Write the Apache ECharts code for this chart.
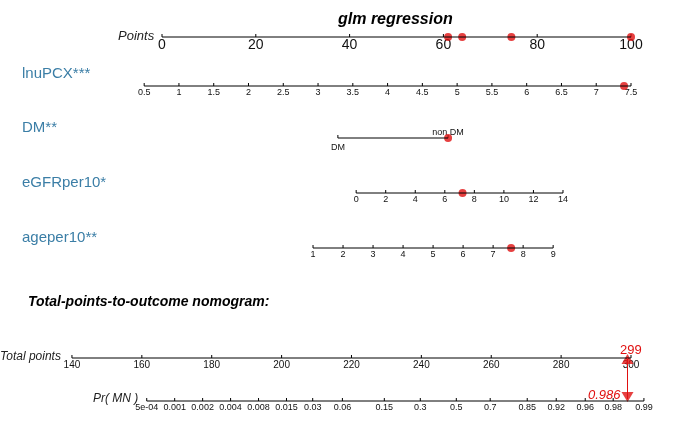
<!DOCTYPE html>
<html><head><meta charset="utf-8">
<script src="https://cdn.jsdelivr.net/npm/echarts@6/dist/echarts.min.js"></script>
<style>html,body{margin:0;background:#fff}#c{width:674px;height:423px}</style>
</head><body><div id="c"></div>
<script>
// points scale
var pointTicks = [0, 20, 40, 60, 80, 100];
// lnuPCX: value 0.5 -> -3.8 pts, 7.5 -> 100 pts
var lnuTicks = [0.5, 1, 1.5, 2, 2.5, 3, 3.5, 4, 4.5, 5, 5.5, 6, 6.5, 7, 7.5];
var lnuRange = [0.5, -3.8, 7.5, 100];
var dmLevels = ['DM', 'non DM'];
var dmPoints = [37.5, 61];
var egfrTicks = [0, 2, 4, 6, 8, 10, 12, 14];
var egfrRange = [0, 41.4, 14, 85.5];
var ageTicks = [1, 2, 3, 4, 5, 6, 7, 8, 9];
var ageRange = [1, 32.2, 9, 83.4];
// total points scale: 140 -> -19.2 pts, 300 -> 100 pts
var totalTicks = [140, 160, 180, 200, 220, 240, 260, 280, 300];
var totalRange = [140, -19.2, 300, 100];
var prLabels = ['5e-04', '0.001', '0.002', '0.004', '0.008', '0.015', '0.03', '0.06', '0.15', '0.3', '0.5', '0.7', '0.85', '0.92', '0.96', '0.98', '0.99'];
var prAtTotal = [161.4, 169.4, 177.4, 185.4, 193.4, 201.4, 208.9, 217.4, 229.4, 239.7, 250, 259.7, 270.3, 278.6, 286.9, 294.9, 303.7];
// observed case
var casePoints = [61, 64, 74.5, 100];
var caseLnu = 7.4, caseDm = 'non DM', caseEgfr = 7.2, caseAge = 7.6;
var caseTotal = 299, caseProb = '0.986';

function lin(v, r) { return r[1] + (v - r[0]) * (r[3] - r[1]) / (r[2] - r[0]); }

var rows = { points: 37, lnu: 86, dm: 138, egfr: 193, age: 248, total: 358, pr: 401 };
var ticks = [], lines = [];
function addRow(y, pts, labels, size, dy) {
  lines.push([[pts[0], y], [pts[pts.length - 1], y]]);
  pts.forEach(function (p, i) { ticks.push([p, y, labels[i], size, dy]); });
}
addRow(rows.points, pointTicks, pointTicks.map(String), 14, 8);
addRow(rows.lnu, lnuTicks.map(function (v) { return lin(v, lnuRange); }), lnuTicks.map(String), 9, 7);
addRow(rows.dm, dmPoints, dmLevels, 9, 0);
addRow(rows.egfr, egfrTicks.map(function (v) { return lin(v, egfrRange); }), egfrTicks.map(String), 9, 7);
addRow(rows.age, ageTicks.map(function (v) { return lin(v, ageRange); }), ageTicks.map(String), 9, 7);
addRow(rows.total, totalTicks.map(function (v) { return lin(v, totalRange); }), totalTicks.map(String), 10, 7);
addRow(rows.pr, prAtTotal.map(function (v) { return lin(v, totalRange); }), prLabels, 9, 7);
// DM labels: one below, one above
ticks[ticks.length - 1 - prLabels.length - totalTicks.length - ageTicks.length - egfrTicks.length][4] = -5;
ticks[ticks.length - 2 - prLabels.length - totalTicks.length - ageTicks.length - egfrTicks.length][4] = 10;

var dots = casePoints.map(function (p) { return [p, rows.points]; });
dots.push([lin(caseLnu, lnuRange), rows.lnu]);
dots.push([dmPoints[dmLevels.indexOf(caseDm)], rows.dm]);
dots.push([lin(caseEgfr, egfrRange), rows.egfr]);
dots.push([lin(caseAge, ageRange), rows.age]);
var tx = lin(caseTotal, totalRange);

var names = [['lnuPCX***', rows.lnu - 14], ['DM**', rows.dm - 12], ['eGFRper10*', rows.egfr - 12], ['ageper10**', rows.age - 12]];

var chart = echarts.init(document.getElementById('c'));
var series = lines.map(function (l) {
  return { type: 'line', data: l, symbol: 'none', lineStyle: { color: '#000', width: 1 }, silent: true, clip: false };
});
series.push({
  type: 'custom', clip: false, silent: true, data: ticks,
  renderItem: function (params, api) {
    var p = api.coord([api.value(0), api.value(1)]);
    var d = ticks[params.dataIndex];
    return { type: 'group', children: [
      { type: 'line', shape: { x1: p[0], y1: p[1], x2: p[0], y2: p[1] - 3 }, style: { stroke: '#000', lineWidth: 1 } },
      { type: 'text', style: { text: d[2], x: p[0], y: p[1] + d[4], align: 'center', verticalAlign: 'middle',
        font: d[3] + 'px Arial, "Liberation Sans"', fill: '#111' } }
    ] };
  }
});
series.push({ type: 'scatter', data: dots, symbolSize: 8, itemStyle: { color: '#e01010' }, clip: false, silent: true });
series.push({ type: 'line', data: [[tx, rows.total], [tx, rows.pr - 2]], symbol: 'none', lineStyle: { color: '#e01010', width: 1 }, clip: false, silent: true });
series.push({ type: 'scatter', clip: false, silent: true, symbol: 'triangle', symbolSize: [12, 10],
  itemStyle: { color: '#e01010' },
  data: [{ value: [tx, rows.total + 1] }, { value: [tx, rows.pr - 4], symbolRotate: 180 }] });

chart.setOption({
  animation: false,
  grid: { left: 0, right: 0, top: 0, bottom: 0 },
  xAxis: { type: 'value', min: -162 / 4.69, max: (674 - 162) / 4.69, show: false },
  yAxis: { type: 'value', min: 0, max: 423, inverse: true, show: false },
  series: series,
  graphic: [
    { type: 'text', left: 338, top: 12, style: { text: 'glm regression', font: 'italic bold 16px Arial, "Liberation Sans"', fill: '#000' } },
    { type: 'text', left: 118, top: 30, style: { text: 'Points', font: 'italic 13px Arial, "Liberation Sans"', fill: '#222' } },
    { type: 'text', left: 28, top: 295, style: { text: 'Total-points-to-outcome nomogram:', font: 'italic bold 14px Arial, "Liberation Sans"', fill: '#000' } },
    { type: 'text', left: 0, top: 351, style: { text: 'Total points', font: 'italic 12px Arial, "Liberation Sans"', fill: '#222' } },
    { type: 'text', left: 93, top: 393, style: { text: 'Pr( MN )', font: 'italic 12px Arial, "Liberation Sans"', fill: '#222' } },
    { type: 'text', left: 620, top: 344, style: { text: String(caseTotal), font: '13px Arial, "Liberation Sans"', fill: '#e01010' } },
    { type: 'text', left: 588, top: 389, style: { text: caseProb, font: 'italic 13px Arial, "Liberation Sans"', fill: '#e01010' } }
  ].concat(names.map(function (n) {
    return { type: 'text', left: 22, top: n[1] - 6, style: { text: n[0], font: '15px Arial, "Liberation Sans"', fill: '#3b7ea6' } };
  }))
});
</script></body></html>
